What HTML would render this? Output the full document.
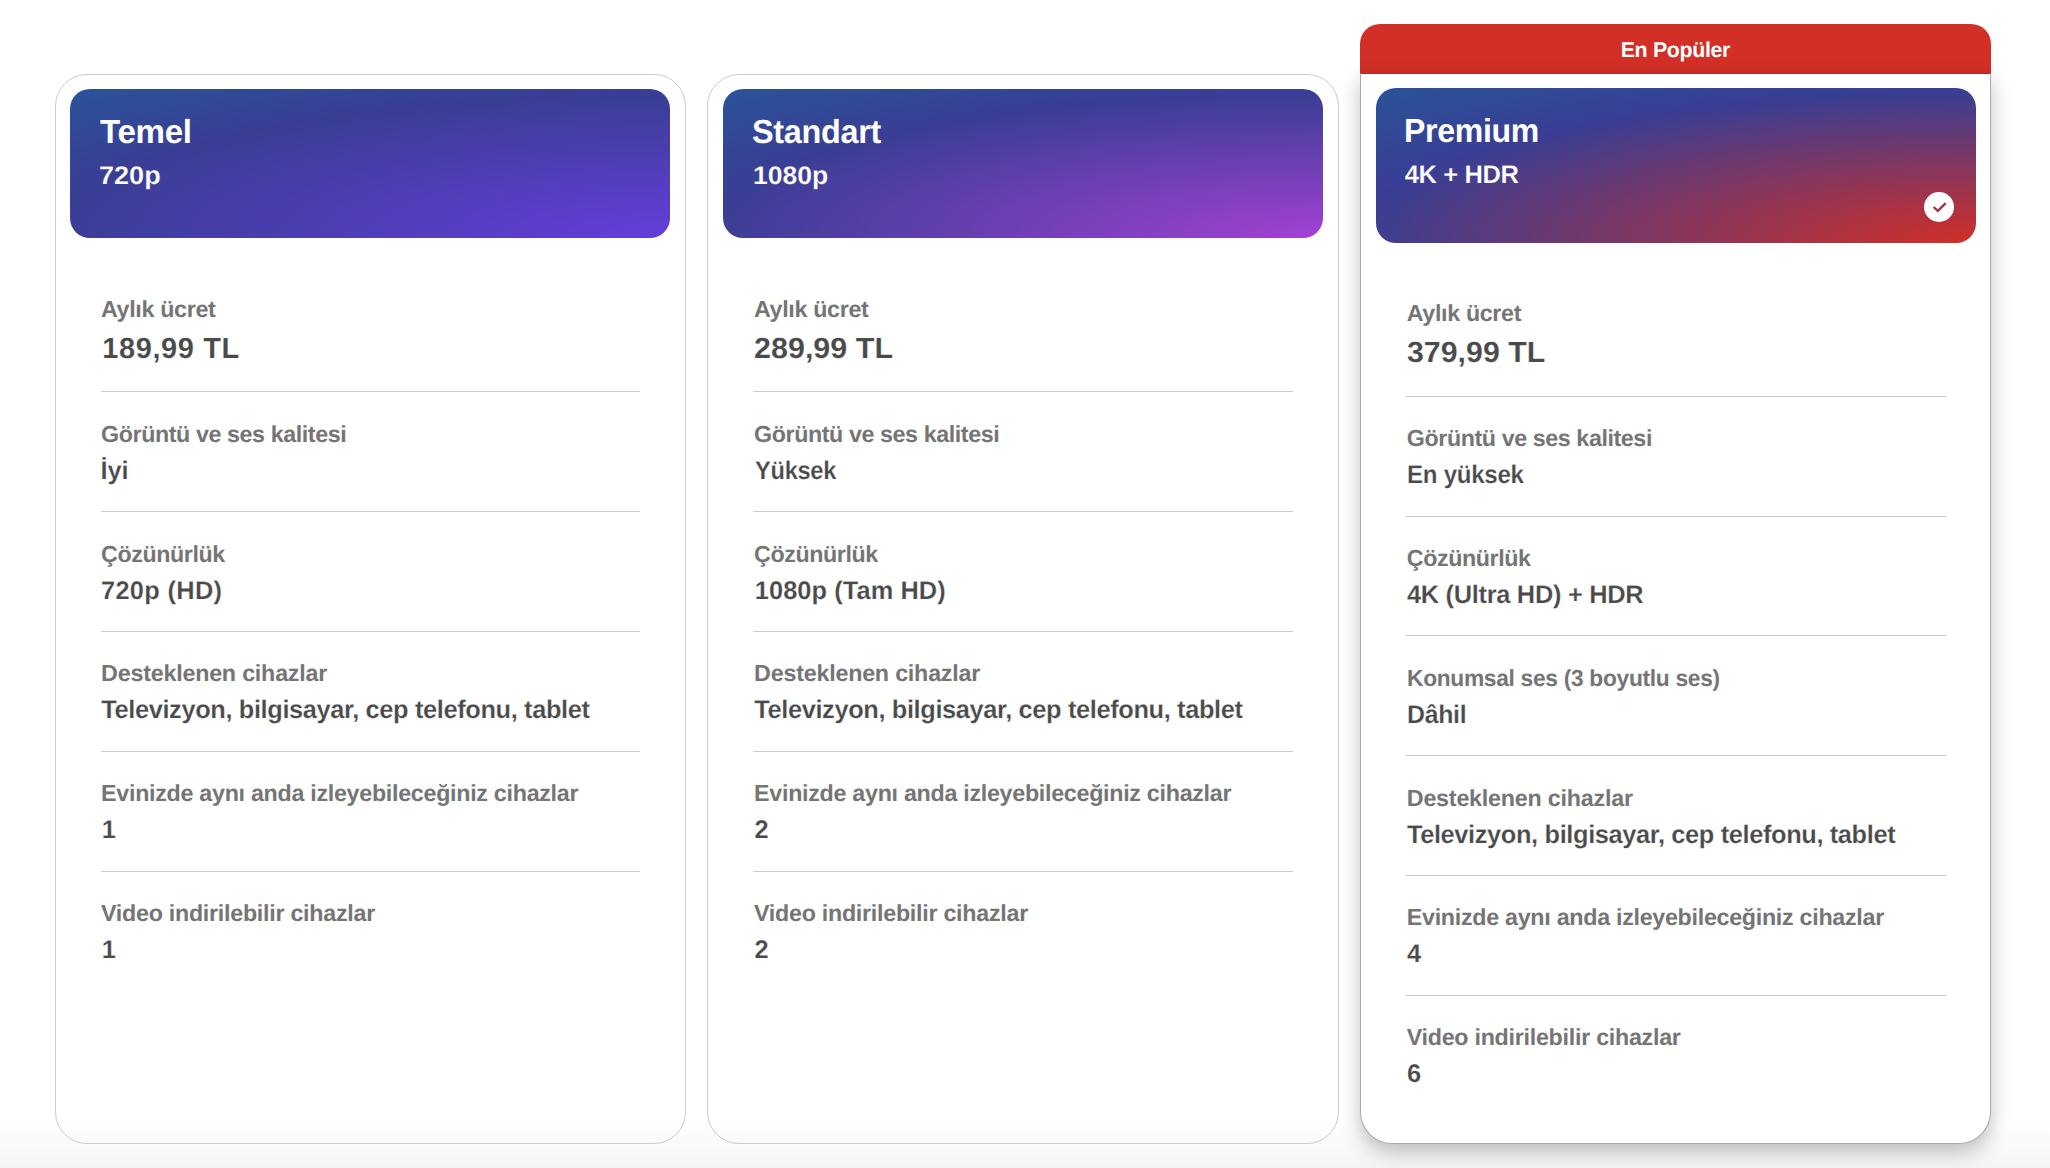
<!DOCTYPE html>
<html lang="tr">
<head>
<meta charset="utf-8">
<title>Planlar</title>
<style>
*{margin:0;padding:0;box-sizing:border-box}
html,body{width:2050px;height:1168px;overflow:hidden;background:#fff}
body{position:relative;font-family:"Liberation Sans",sans-serif;font-weight:700;text-rendering:geometricPrecision}
.plan{position:absolute;top:0;height:1168px}
ul{list-style:none}
.card{position:absolute;left:0;width:100%;top:74px;height:1070px;border:1px solid #cbcbcb;border-radius:32px}
.card.pop{top:73px;height:1071px;background:#fff;border-color:#aaa;border-top-color:#ad2b26;border-radius:0 0 32px 32px;box-shadow:0 8px 20px rgba(0,0,0,.25)}
.banner{position:absolute;left:0;width:100%;top:24px;height:50px;background:#d22f27;border-radius:20px 20px 0 0}
.head{position:absolute;width:600px;border-radius:20px}
.basic{background:radial-gradient(140.76% 131.96% at 100% 100%,rgb(102,61,219) 0%,rgba(70,43,144,.5) 73.57%,rgba(70,43,144,0) 100%),rgb(44,81,152)}
.standard{background:radial-gradient(140.76% 131.96% at 100% 100%,rgb(163,65,212) 0%,rgba(70,43,144,.5) 73.57%,rgba(70,43,144,0) 100%),rgb(44,81,152)}
.premium{background:radial-gradient(140.76% 131.96% at 100% 100%,rgb(210,47,39) 0%,rgba(70,43,144,.5) 73.57%,rgba(70,43,144,0) 100%),rgb(44,81,152)}
.t{position:absolute;white-space:nowrap;line-height:1;transform-origin:0 0}
.name{font-size:33.3px;color:#fff}
.res{font-size:25.5px;color:#fff;-webkit-text-stroke:.2px #3e3f9a}
.ban{font-size:21.4px;color:#fff}
.lab{color:#757575;font-size:23.25px}
.val{color:#4a4a4a;font-size:25.4px;-webkit-text-stroke:.2px #fff}
.price{color:#4a4a4a;font-size:29px;-webkit-text-stroke:.15px #fff}
.hr{position:absolute;display:block;height:1px;background:#cbcbcb;width:539px}
.fade{position:absolute;left:0;top:1122px;width:2050px;height:46px;background:linear-gradient(rgba(0,0,0,0),rgba(0,0,0,.045))}
.check{position:absolute;width:30px;height:30px}
</style>
</head>
<body>
<div class="fade"></div>
<main>
<section class="plan" style="left:55px;width:631px">
<div class="card"></div>
<header class="head basic" style="left:15px;top:89px;height:149px">
<h2 class="t name" style="left:29.8px;top:27px;letter-spacing:-0.3px;transform:scaleX(0.9932)">Temel</h2>
<p class="t res" style="left:28.74px;top:75px;transform:scaleX(1.0611)">720p</p>
</header>
<ul>
<li><span class="t lab" style="left:46.0px;top:298px;letter-spacing:-0.33px">Aylık ücret</span><span class="t price" style="left:47.3px;top:335px;letter-spacing:0.59px">189,99 TL</span><i class="hr" style="left:46px;width:539px;top:391px"></i></li>
<li><span class="t lab" style="left:46.1px;top:423px;letter-spacing:-0.41px">Görüntü ve ses kalitesi</span><span class="t val" style="left:45.6px;top:459px;letter-spacing:-0.19px">İyi</span><i class="hr" style="left:46px;width:539px;top:511px"></i></li>
<li><span class="t lab" style="left:46.1px;top:543px;letter-spacing:-0.41px">Çözünürlük</span><span class="t val" style="left:46.0px;top:579px;letter-spacing:0.31px">720p (HD)</span><i class="hr" style="left:46px;width:539px;top:631px"></i></li>
<li><span class="t lab" style="left:46.1px;top:662px;letter-spacing:-0.2px">Desteklenen cihazlar</span><span class="t val" style="left:46.2px;top:698px;letter-spacing:-0.37px">Televizyon, bilgisayar, cep telefonu, tablet</span><i class="hr" style="left:46px;width:539px;top:751px"></i></li>
<li><span class="t lab" style="left:46.1px;top:782px;letter-spacing:-0.28px">Evinizde aynı anda izleyebileceğiniz cihazlar</span><span class="t val" style="left:46.8px;top:818px">1</span><i class="hr" style="left:46px;width:539px;top:871px"></i></li>
<li><span class="t lab" style="left:46.0px;top:902px;letter-spacing:-0.26px">Video indirilebilir cihazlar</span><span class="t val" style="left:46.8px;top:938px">1</span></li>
</ul>
</section>
<section class="plan" style="left:707px;width:632px">
<div class="card"></div>
<header class="head standard" style="left:16px;top:89px;height:149px">
<h2 class="t name" style="left:29.3px;top:27px;letter-spacing:-0.3px;transform:scaleX(0.9731)">Standart</h2>
<p class="t res" style="left:30.26px;top:75px;transform:scaleX(1.0406)">1080p</p>
</header>
<ul>
<li><span class="t lab" style="left:47.0px;top:298px;letter-spacing:-0.33px">Aylık ücret</span><span class="t price" style="left:46.55px;top:335px;transform:scaleX(1.0516)">289,99 TL</span><i class="hr" style="left:46px;width:540px;top:391px"></i></li>
<li><span class="t lab" style="left:47.1px;top:423px;letter-spacing:-0.41px">Görüntü ve ses kalitesi</span><span class="t val" style="left:47.6px;top:459px;letter-spacing:-0.3px;transform:scaleX(0.9308)">Yüksek</span><i class="hr" style="left:46px;width:540px;top:511px"></i></li>
<li><span class="t lab" style="left:47.1px;top:543px;letter-spacing:-0.41px">Çözünürlük</span><span class="t val" style="left:47.8px;top:579px;letter-spacing:0.07px">1080p (Tam HD)</span><i class="hr" style="left:46px;width:540px;top:631px"></i></li>
<li><span class="t lab" style="left:47.1px;top:662px;letter-spacing:-0.2px">Desteklenen cihazlar</span><span class="t val" style="left:47.2px;top:698px;letter-spacing:-0.37px">Televizyon, bilgisayar, cep telefonu, tablet</span><i class="hr" style="left:46px;width:540px;top:751px"></i></li>
<li><span class="t lab" style="left:47.1px;top:782px;letter-spacing:-0.28px">Evinizde aynı anda izleyebileceğiniz cihazlar</span><span class="t val" style="left:47.4px;top:818px">2</span><i class="hr" style="left:46px;width:540px;top:871px"></i></li>
<li><span class="t lab" style="left:47.0px;top:902px;letter-spacing:-0.26px">Video indirilebilir cihazlar</span><span class="t val" style="left:47.4px;top:938px">2</span></li>
</ul>
</section>
<section class="plan" style="left:1360px;width:631px">
<div class="banner"><span class="t ban" style="left:260.7px;top:16px;letter-spacing:-0.36px">En Popüler</span></div>
<div class="card pop"></div>
<header class="head premium" style="left:16px;top:88px;height:155px">
<h2 class="t name" style="left:27.88px;top:27px;letter-spacing:-0.3px;transform:scaleX(0.9615)">Premium</h2>
<p class="t res" style="left:28.7px;top:75px;letter-spacing:-0.38px">4K + HDR</p>
<svg class="check" style="left:547.6px;top:103.6px" viewBox="0 0 30 30"><circle cx="15" cy="15" r="15" fill="#fff"/><path d="M9.5 15L13.8 18.9L21.7 11.1" fill="none" stroke="#a52c4a" stroke-width="2.2"/></svg>
</header>
<ul>
<li><span class="t lab" style="left:46.7px;top:302px;letter-spacing:-0.33px">Aylık ücret</span><span class="t price" style="left:47.3px;top:339px;transform:scaleX(1.0459)">379,99 TL</span><i class="hr" style="left:46px;width:539.5px;top:396px"></i></li>
<li><span class="t lab" style="left:46.8px;top:427px;letter-spacing:-0.41px">Görüntü ve ses kalitesi</span><span class="t val" style="left:46.85px;top:463px;letter-spacing:-0.3px;transform:scaleX(0.9489)">En yüksek</span><i class="hr" style="left:46px;width:539.5px;top:516px"></i></li>
<li><span class="t lab" style="left:46.8px;top:547px;letter-spacing:-0.41px">Çözünürlük</span><span class="t val" style="left:46.9px;top:583px;letter-spacing:-0.29px">4K (Ultra HD) + HDR</span><i class="hr" style="left:46px;width:539.5px;top:635px"></i></li>
<li><span class="t lab" style="left:46.52px;top:667px;letter-spacing:-0.3px;transform:scaleX(0.9782)">Konumsal ses (3 boyutlu ses)</span><span class="t val" style="left:46.62px;top:703px;letter-spacing:-0.3px;transform:scaleX(0.9792)">Dâhil</span><i class="hr" style="left:46px;width:539.5px;top:755px"></i></li>
<li><span class="t lab" style="left:46.8px;top:787px;letter-spacing:-0.2px">Desteklenen cihazlar</span><span class="t val" style="left:46.9px;top:823px;letter-spacing:-0.37px">Televizyon, bilgisayar, cep telefonu, tablet</span><i class="hr" style="left:46px;width:539.5px;top:875px"></i></li>
<li><span class="t lab" style="left:46.8px;top:906px;letter-spacing:-0.28px">Evinizde aynı anda izleyebileceğiniz cihazlar</span><span class="t val" style="left:46.9px;top:942px">4</span><i class="hr" style="left:46px;width:539.5px;top:995px"></i></li>
<li><span class="t lab" style="left:46.7px;top:1026px;letter-spacing:-0.26px">Video indirilebilir cihazlar</span><span class="t val" style="left:47.1px;top:1062px">6</span></li>
</ul>
</section>
</main>
</body>
</html>
